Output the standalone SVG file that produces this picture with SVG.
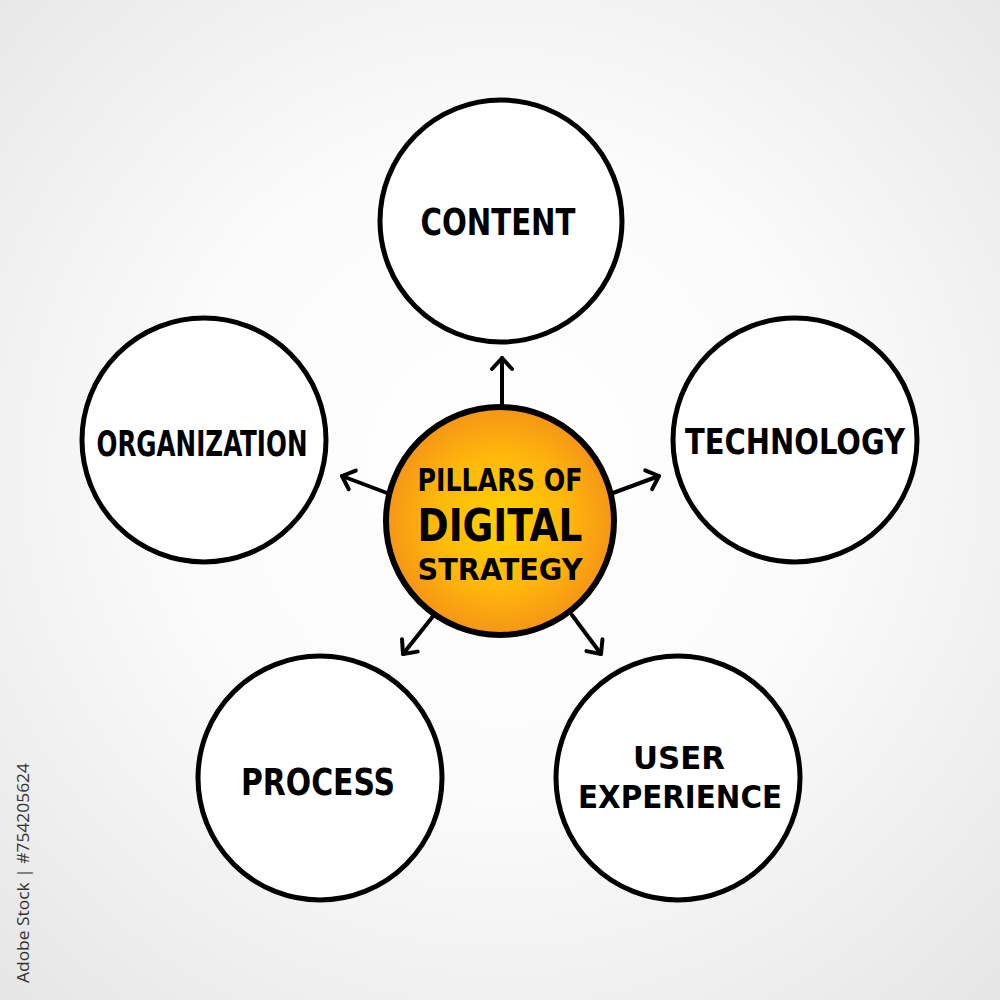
<svg xmlns="http://www.w3.org/2000/svg" width="1000" height="1000" viewBox="0 0 1000 1000">
<defs>
<radialGradient id="bg" cx="500" cy="470" r="720" gradientUnits="userSpaceOnUse">
<stop offset="0" stop-color="#ffffff"/>
<stop offset="0.45" stop-color="#fbfbfb"/>
<stop offset="1" stop-color="#e6e6e6"/>
</radialGradient>
<radialGradient id="orange" cx="0.5" cy="0.5" r="0.5">
<stop offset="0" stop-color="#ffd200"/>
<stop offset="0.6" stop-color="#ffb60c"/>
<stop offset="1" stop-color="#f59516"/>
</radialGradient>
<marker id="arr" markerUnits="userSpaceOnUse" markerWidth="30" markerHeight="30" viewBox="-15 -15 30 30" refX="0" refY="0" orient="auto">
<path d="M-11,-10 L0,0 L-11,10" fill="none" stroke="#000" stroke-width="4" stroke-linecap="round" stroke-linejoin="round"/>
</marker>
</defs>
<style>
.node{fill:#fff;stroke:#000;stroke-width:5}
.lbl{font-family:"DejaVu Sans Condensed","DejaVu Sans",sans-serif;font-weight:bold;fill:#000;text-anchor:middle}
.conn{stroke:#000;stroke-width:4;stroke-linecap:round;fill:none;marker-end:url(#arr)}
</style>
<rect x="0" y="0" width="1000" height="1000" fill="url(#bg)"/>
<g id="connectors">
<line class="conn" x1="502" y1="407" x2="502" y2="358"/>
<line class="conn" x1="613" y1="493" x2="659" y2="476"/>
<line class="conn" x1="387" y1="493" x2="342" y2="476"/>
<line class="conn" x1="434" y1="615" x2="403" y2="654"/>
<line class="conn" x1="572" y1="615" x2="601" y2="654"/>
</g>
<g id="center">
<circle cx="500" cy="521" r="114" fill="url(#orange)" stroke="#000" stroke-width="6"/>
<text class="lbl" x="500" y="491" font-size="32" textLength="165" lengthAdjust="spacingAndGlyphs">PILLARS OF</text>
<text class="lbl" x="500" y="541" font-size="44" textLength="165" lengthAdjust="spacingAndGlyphs">DIGITAL</text>
<text class="lbl" x="500" y="580" font-size="31" textLength="165" lengthAdjust="spacingAndGlyphs">STRATEGY</text>
</g>
<g id="content">
<circle class="node" cx="501" cy="221" r="121"/>
<text class="lbl" x="498" y="235" font-size="37" textLength="155" lengthAdjust="spacingAndGlyphs">CONTENT</text>
</g>
<g id="technology">
<circle class="node" cx="795" cy="440" r="122"/>
<text class="lbl" x="795" y="454" font-size="35" textLength="220" lengthAdjust="spacingAndGlyphs">TECHNOLOGY</text>
</g>
<g id="organization">
<circle class="node" cx="204" cy="440" r="122"/>
<text class="lbl" x="202" y="456" font-size="35" textLength="211" lengthAdjust="spacingAndGlyphs">ORGANIZATION</text>
</g>
<g id="process">
<circle class="node" cx="320" cy="778" r="122"/>
<text class="lbl" x="318" y="795" font-size="38" textLength="154" lengthAdjust="spacingAndGlyphs">PROCESS</text>
</g>
<g id="userexperience">
<circle class="node" cx="678" cy="778" r="122"/>
<text class="lbl" x="679" y="769" font-size="32" textLength="92" lengthAdjust="spacingAndGlyphs">USER</text>
<text class="lbl" x="680" y="808" font-size="32" textLength="204" lengthAdjust="spacingAndGlyphs">EXPERIENCE</text>
</g>
<text transform="translate(29,983) rotate(-90)" font-family="'Open Sans','DejaVu Sans',sans-serif" font-size="16" fill="#333" textLength="220" lengthAdjust="spacingAndGlyphs">Adobe Stock | #754205624</text>
</svg>
